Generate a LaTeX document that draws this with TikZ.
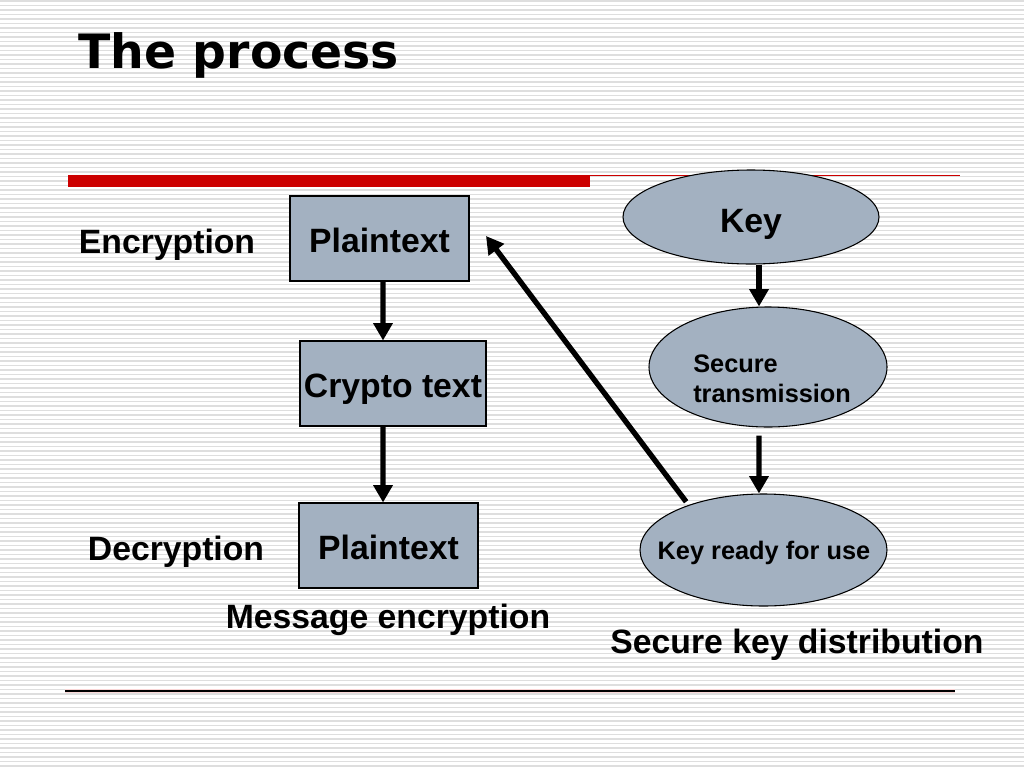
\documentclass[tikz,border=0pt]{standalone}
\usepackage{fontspec}
\setmainfont{Liberation Sans}
\newfontfamily\titlefont{DejaVu Sans}
\usetikzlibrary{arrows.meta,shapes.geometric}
\definecolor{boxfill}{RGB}{163,177,193}
\definecolor{barred}{RGB}{204,0,0}
\definecolor{stripe}{RGB}{222,222,222}
\definecolor{baseline}{RGB}{165,150,150}
\definecolor{halo}{RGB}{250,215,215}
\tikzset{
  box/.style={draw=black, line width=0.8pt, fill=boxfill, inner sep=0pt, font=\fontsize{25.3}{28}\selectfont\bfseries, text height=21pt, text depth=0pt},
  oval/.style={ellipse, draw=black, line width=0.8pt, fill=boxfill, inner sep=0pt},
  lbl/.style={font=\fontsize{25.3}{28}\selectfont\bfseries, inner sep=0pt, text height=21pt, text depth=0pt},
  small/.style={font=\fontsize{19}{22.5}\selectfont\bfseries, inner sep=0pt},
  flow/.style={line width=4pt, -{Triangle[length=13pt,width=14pt]}},
}
\begin{document}
\begin{tikzpicture}[x=0.75pt,y=-0.75pt]
\useasboundingbox (0,0) rectangle (1024,768);
\fill[white] (0,0) rectangle (1024,768);
\foreach \y in {1,5.5,...,768} \draw[stripe, line width=0.9pt] (0,\y) -- (1024,\y);
% title
\node[anchor=base west, inner sep=0pt, font=\titlefont\fontsize{35.5}{40}\selectfont\bfseries] (title) at (78,68) {The process};
% rules
\fill[barred] (68,175) rectangle (590,187);
\draw[barred, line width=0.9pt] (590,175.5) -- (960,175.5);
\draw[halo, line width=3pt] (65,691) -- (955,691);
\draw[baseline, line width=0.8pt] (65,691) -- (955,691);
% boxes
\node[box, minimum width=134.25pt, minimum height=63.75pt] (p1) at (379.5,238.5) {Plaintext};
\node[box, minimum width=139.5pt, minimum height=63.75pt] (ct) at (393,383.5) {Crypto text};
\node[box, minimum width=134.25pt, minimum height=63.75pt] (p2) at (388.5,545.5) {Plaintext};
% ellipses
\node[oval, minimum width=192pt, minimum height=70.5pt] (key) at (751,217) {};
\node[lbl] (keyt) at (751,218) {Key};
\node[oval, minimum width=178.5pt, minimum height=90pt] (st) at (768,367) {};
\node[small, anchor=west, align=left] (stt) at (693,379) {Secure\\transmission};
\node[oval, minimum width=185.25pt, minimum height=84pt] (kr) at (763.5,550) {};
\node[small] (krt) at (764,553) {Key ready for use};
% labels
\node[lbl] (enc) at (167,239) {Encryption};
\node[lbl] (dec) at (176,546) {Decryption};
\node[lbl] (me) at (388,614) {Message encryption};
\node[lbl] (skd) at (797,639) {Secure key distribution};
% connectors
\draw[flow] ([xshift=2.6pt]p1.south) -- ([xshift=-7.5pt]ct.north);
\draw[flow] ([xshift=-7.5pt]ct.south) -- ([xshift=-4.1pt]p2.north);
\draw[flow] ([xshift=6pt]key.south) -- ([xshift=-6.75pt]st.north);
\draw[flow] ([xshift=-6.75pt,yshift=-6pt]st.south) -- ([xshift=-3.4pt]kr.north);
\coordinate (tipP) at (486,236);
\draw[flow, shorten <=3pt] (kr.149) -- (tipP);
\end{tikzpicture}
\end{document}
